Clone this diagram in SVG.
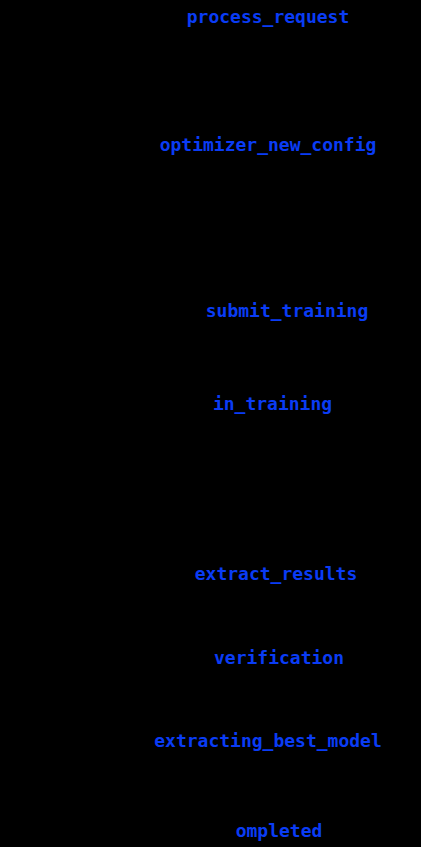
<svg xmlns="http://www.w3.org/2000/svg" width="421" height="847" viewBox="0 0 421 847">
<style>
.lbl{font-family:"DejaVu Sans Mono","Liberation Mono",monospace;font-size:18px;font-weight:bold;fill:#0a3cf5;text-anchor:middle}
</style>
<rect x="0" y="0" width="421" height="847" fill="#000"/>
<g id="connectors"></g>
<g id="process_request"><text class="lbl" x="268" y="23">process_request</text></g>
<g id="optimizer_new_config"><text class="lbl" x="268" y="151">optimizer_new_config</text></g>
<g id="submit_training"><text class="lbl" x="287" y="317">submit_training</text></g>
<g id="in_training"><text class="lbl" x="272.5" y="410">in_training</text></g>
<g id="extract_results"><text class="lbl" x="276" y="580">extract_results</text></g>
<g id="verification"><text class="lbl" x="279" y="664">verification</text></g>
<g id="extracting_best_model"><text class="lbl" x="268" y="747">extracting_best_model</text></g>
<g id="completed"><text class="lbl" x="279" y="837">ompleted</text></g>
</svg>
